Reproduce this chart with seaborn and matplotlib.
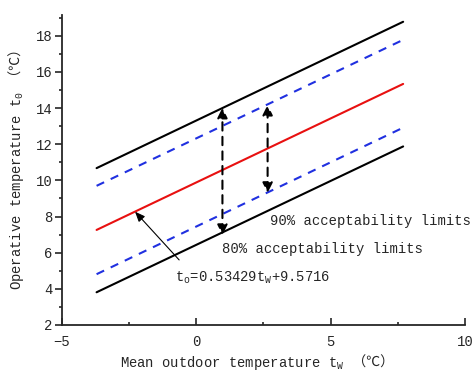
import matplotlib
matplotlib.use('Agg')
import matplotlib.pyplot as plt
import pandas as pd
import seaborn as sns

# end points of the comfort lines
tw_ends = [-3.7, 7.7]
upper_80 = [10.68, 18.78]
upper_90 = [9.70, 17.78]
neutral = [7.26, 15.34]
lower_90 = [4.81, 12.92]
lower_80 = [3.81, 11.88]

# double arrows showing the band widths
arrow_80_x = 0.98
arrow_80_y = [14.02, 6.98]
arrow_90_x = 2.66
arrow_90_y = [14.18, 9.31]

x_ticks = [-5, 0, 5, 10]
y_ticks = [2, 4, 6, 8, 10, 12, 14, 16, 18]

sns.set_style('ticks')
plt.rcParams['font.family'] = ['Liberation Mono', 'Noto Sans CJK SC']
plt.rcParams['mathtext.fontset'] = 'custom'
plt.rcParams['mathtext.rm'] = 'Liberation Mono'
plt.rcParams['mathtext.it'] = 'Liberation Mono'
plt.rcParams['mathtext.default'] = 'regular'
plt.rcParams['font.size'] = 10

df = pd.DataFrame({'tw': tw_ends, 'up80': upper_80, 'up90': upper_90,
                   'mid': neutral, 'lo90': lower_90, 'lo80': lower_80})

W, H = 474, 377
fig = plt.figure(figsize=(W / 100, H / 100), dpi=100)
ax = fig.add_axes([0.130, 0.138, 0.851, 0.822])

sns.lineplot(data=df, x='tw', y='up80', color='black', lw=1.5, ax=ax)
sns.lineplot(data=df, x='tw', y='lo80', color='black', lw=1.5, ax=ax)
sns.lineplot(data=df, x='tw', y='mid', color='#e81010', lw=1.5, ax=ax)
for col in ['up90', 'lo90']:
    sns.lineplot(data=df, x='tw', y=col, color='#2030e0', lw=1.5, ax=ax,
                 linestyle=(0, (4, 3.5)))
ax.set(xlabel='', ylabel='')

dash_arrow = dict(arrowstyle='<|-|>,head_length=0.6,head_width=0.3',
                  color='black', lw=1.5, linestyle=(0, (4, 3)),
                  shrinkA=0, shrinkB=0)
ax.annotate('', xy=(arrow_80_x, arrow_80_y[0]), xytext=(arrow_80_x, arrow_80_y[1]),
            arrowprops=dash_arrow)
ax.annotate('', xy=(arrow_90_x, arrow_90_y[0]), xytext=(arrow_90_x, arrow_90_y[1]),
            arrowprops=dash_arrow)

ax.text(2.74, 7.78, '90% acceptability limits', va='center', ha='left')
ax.text(0.98, 6.21, '80% acceptability limits', va='center', ha='left')
ax.text(-0.79, 4.6, 't$_o$=0.53429t$_W$+9.5716', va='center', ha='left')
ax.annotate('', xy=(-2.27, 8.27), xytext=(-0.63, 5.6),
            arrowprops=dict(arrowstyle='-|>,head_length=0.6,head_width=0.25',
                            color='black', lw=0.8, shrinkA=0, shrinkB=0))

ax.set_xlim(-5, 10)
ax.set_ylim(2, 19.15)
ax.set_xticks(x_ticks)
ax.set_yticks(y_ticks)
ax.set_xticks([-2.5, 2.5, 7.5], minor=True)
ax.set_yticks([3, 5, 7, 9, 11, 13, 15, 17, 19], minor=True)
ax.tick_params(axis='x', which='both', direction='in', width=1.2, pad=7)
ax.tick_params(axis='y', which='both', direction='out', width=1.2, pad=1.5)
ax.tick_params(which='major', length=5)
ax.tick_params(which='minor', length=2.5)
for s in ['left', 'bottom']:
    ax.spines[s].set_linewidth(1.3)
sns.despine(ax=ax)

# axis labels: mathtext part + CJK unit part, placed side by side
r = fig.canvas.get_renderer()
xl1 = fig.text(0, 0, 'Mean outdoor temperature t$_W$', va='baseline', ha='left')
xl2 = fig.text(0, 0, ' （℃）', va='baseline', ha='left')
w1 = xl1.get_window_extent(r).width
w2 = xl2.get_window_extent(r).width
x0 = 257 - (w1 + w2) / 2
yb = (H - 367) / H
xl1.set_position((x0 / W, yb))
xl2.set_position(((x0 + w1) / W, yb))

yl1 = fig.text(0, 0, 'Operative temperature t$_0$', rotation=90,
               rotation_mode='anchor', va='baseline', ha='left')
yl2 = fig.text(0, 0, ' （℃）', rotation=90, rotation_mode='anchor',
               va='baseline', ha='left')
h1 = yl1.get_window_extent(r).height
h2 = yl2.get_window_extent(r).height
y0 = 166 + (h1 + h2) / 2
xb = 21 / W
yl1.set_position((xb, (H - y0) / H))
yl2.set_position((xb, (H - y0 + h1) / H))

fig.savefig('out.png', dpi=100)
